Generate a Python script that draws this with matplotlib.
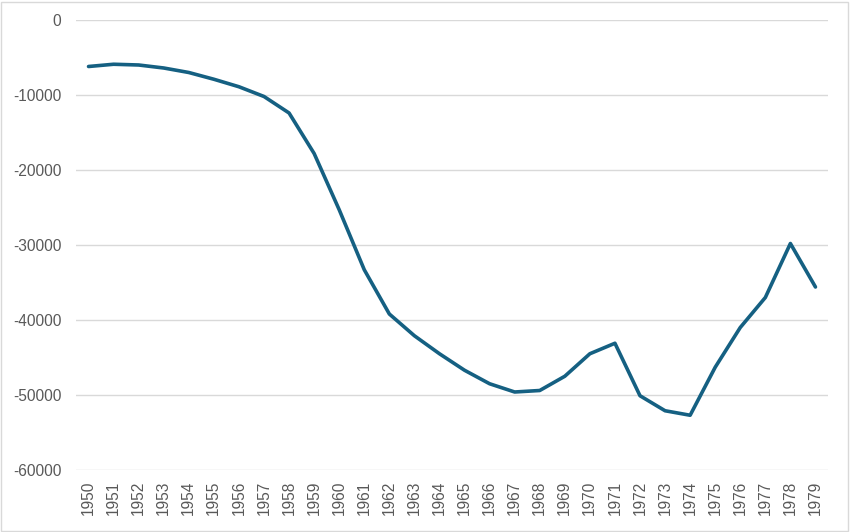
import matplotlib
matplotlib.use('Agg')
import matplotlib.pyplot as plt
import matplotlib.patches as mpatches

years = [str(y) for y in range(1950, 1980)]
values = [-6200, -5900, -6000, -6400, -7000, -7900, -8900, -10200, -12400, -17800,
          -25300, -33300, -39200, -42100, -44500, -46700, -48500, -49600, -49400, -47500,
          -44500, -43100, -50100, -52100, -52700, -46300, -41000, -37000, -29800, -35600]
y_ticks = [0, -10000, -20000, -30000, -40000, -50000, -60000]

fig = plt.figure(figsize=(8.5, 5.32), dpi=100)
ax = fig.add_axes([76 / 850, 1 - 470 / 532, 752 / 850, 450 / 532])

x = list(range(len(years)))
ax.plot(x, values, color='#156082', linewidth=2.6, solid_joinstyle='round',
        solid_capstyle='round', zorder=3)

ax.set_xlim(-0.5, len(years) - 0.5)
ax.set_ylim(-60000, 0)
ax.set_yticks(y_ticks)
ax.set_yticklabels([str(v) for v in y_ticks])
ax.set_xticks(x)
ax.set_xticklabels(years, rotation=90)

ax.grid(axis='y', color='#d9d9d9', linewidth=1)
ax.set_axisbelow(True)
for s in ax.spines.values():
    s.set_visible(False)
ax.tick_params(axis='both', length=0, labelsize=11.2, labelcolor='#595959')
ax.tick_params(axis='y', pad=10.5)
ax.tick_params(axis='x', pad=8)
for lbl in ax.get_xticklabels() + ax.get_yticklabels():
    lbl.set_fontfamily('Liberation Sans')

# light frame around the whole chart
fig.patches.append(mpatches.Rectangle((0.001, 0.002), 0.997, 0.995, transform=fig.transFigure,
                                      fill=False, edgecolor='#d9d9d9', linewidth=1))

fig.savefig('out.png', dpi=100)
